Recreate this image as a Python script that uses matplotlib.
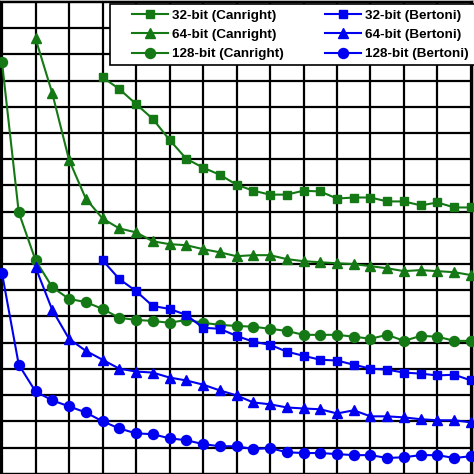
import matplotlib.pyplot as plt
from matplotlib.patches import Rectangle

plt.rcParams['font.family'] = ['Liberation Sans', 'DejaVu Sans']

# x positions (grid units)
x_0 = [0, 0.5, 1, 1.5, 2, 2.5, 3, 3.5, 4, 4.5, 5, 5.5, 6, 6.5, 7, 7.5,
       8, 8.5, 9, 9.5, 10, 10.5, 11, 11.5, 12, 12.5, 13, 13.5, 14]
x_1 = x_0[2:]
x_3 = x_0[6:]

# Canright (green)
can_32 = [15.13, 14.68, 14.11, 13.54, 12.74, 12.02, 11.68, 11.41, 11.03, 10.80,
          10.65, 10.65, 10.80, 10.77, 10.50, 10.54, 10.54, 10.39, 10.39, 10.24,
          10.35, 10.16, 10.16]
can_64 = [16.61, 14.52, 11.98, 10.50, 9.74, 9.36, 9.21, 8.87, 8.76, 8.72, 8.57,
          8.45, 8.30, 8.34, 8.34, 8.19, 8.11, 8.07, 8.03, 8.00, 7.92, 7.84, 7.73,
          7.77, 7.73, 7.69, 7.58]
can_128 = [15.70, 9.97, 8.15, 7.12, 6.67, 6.55, 6.29, 5.95, 5.87, 5.83, 5.76,
           5.87, 5.76, 5.68, 5.64, 5.61, 5.53, 5.45, 5.30, 5.30, 5.30, 5.23,
           5.15, 5.30, 5.07, 5.26, 5.23, 5.07, 5.07]

# Bertoni (blue)
ber_32 = [8.15, 7.43, 6.97, 6.40, 6.29, 6.06, 5.57, 5.53, 5.26, 5.04, 4.92,
          4.66, 4.50, 4.35, 4.32, 4.16, 4.01, 3.97, 3.86, 3.82, 3.75, 3.78, 3.56]
ber_64 = [7.88, 6.25, 5.15, 4.69, 4.35, 4.01, 3.90, 3.86, 3.67, 3.56, 3.40,
          3.18, 2.99, 2.72, 2.65, 2.53, 2.49, 2.46, 2.30, 2.42, 2.19, 2.19,
          2.15, 2.08, 2.04, 2.04, 1.96]
ber_128 = [7.65, 4.16, 3.14, 2.80, 2.57, 2.34, 2.00, 1.73, 1.54, 1.51, 1.35,
           1.28, 1.13, 1.05, 1.05, 0.94, 0.98, 0.82, 0.79, 0.79, 0.75, 0.71,
           0.71, 0.60, 0.63, 0.71, 0.71, 0.60, 0.67]

green = '#147814'
blue = '#0000f0'

fig = plt.figure(figsize=(4.74, 4.74), dpi=100, facecolor='#c8c8c8')
ax = fig.add_axes([0, 0, 472 / 474, 472 / 474])
ax.set_facecolor('white')

kw = dict(linewidth=1.5, zorder=3, clip_on=False)
ax.plot(x_3, can_32, 's-', color=green, markersize=6.2, label='32-bit (Canright)', **kw)
ax.plot(x_1, can_64, '^-', color=green, markersize=7.5, label='64-bit (Canright)', **kw)
ax.plot(x_0, can_128, 'o-', color=green, markersize=7.2, label='128-bit (Canright)', **kw)
ax.plot(x_3, ber_32, 's-', color=blue, markersize=6.2, label='32-bit (Bertoni)', **kw)
ax.plot(x_1, ber_64, '^-', color=blue, markersize=7.5, label='64-bit (Bertoni)', **kw)
ax.plot(x_0, ber_128, 'o-', color=blue, markersize=7.2, label='128-bit (Bertoni)', **kw)

ax.set_xlim(-0.06, 14.03)
ax.set_ylim(-0.01, 18.0)
ax.set_xticks(range(15))
ax.set_yticks(range(19))
ax.tick_params(length=0, labelbottom=False, labelleft=False)
ax.grid(True, color='black', linewidth=1.6, zorder=1)
ax.set_axisbelow(True)
for s in ax.spines.values():
    s.set_linewidth(1.6)
    s.set_color('black')

# legend box
box = Rectangle((110 / 472, (474 - 65) / 472), 0.9, 61 / 472,
                transform=ax.transAxes, facecolor='white', edgecolor='black',
                linewidth=1.2, zorder=8, clip_on=False)
ax.add_patch(box)

leg = ax.legend(loc='upper left', bbox_to_anchor=(132 / 472, 0.985), ncol=2,
                frameon=False, borderpad=0, borderaxespad=0,
                handlelength=2.67, handletextpad=0.3, columnspacing=3.05,
                labelspacing=0.52, prop={'weight': 'bold', 'size': 9.7})
leg.set_zorder(10)

fig.savefig('out.png', dpi=100, facecolor=fig.get_facecolor())
